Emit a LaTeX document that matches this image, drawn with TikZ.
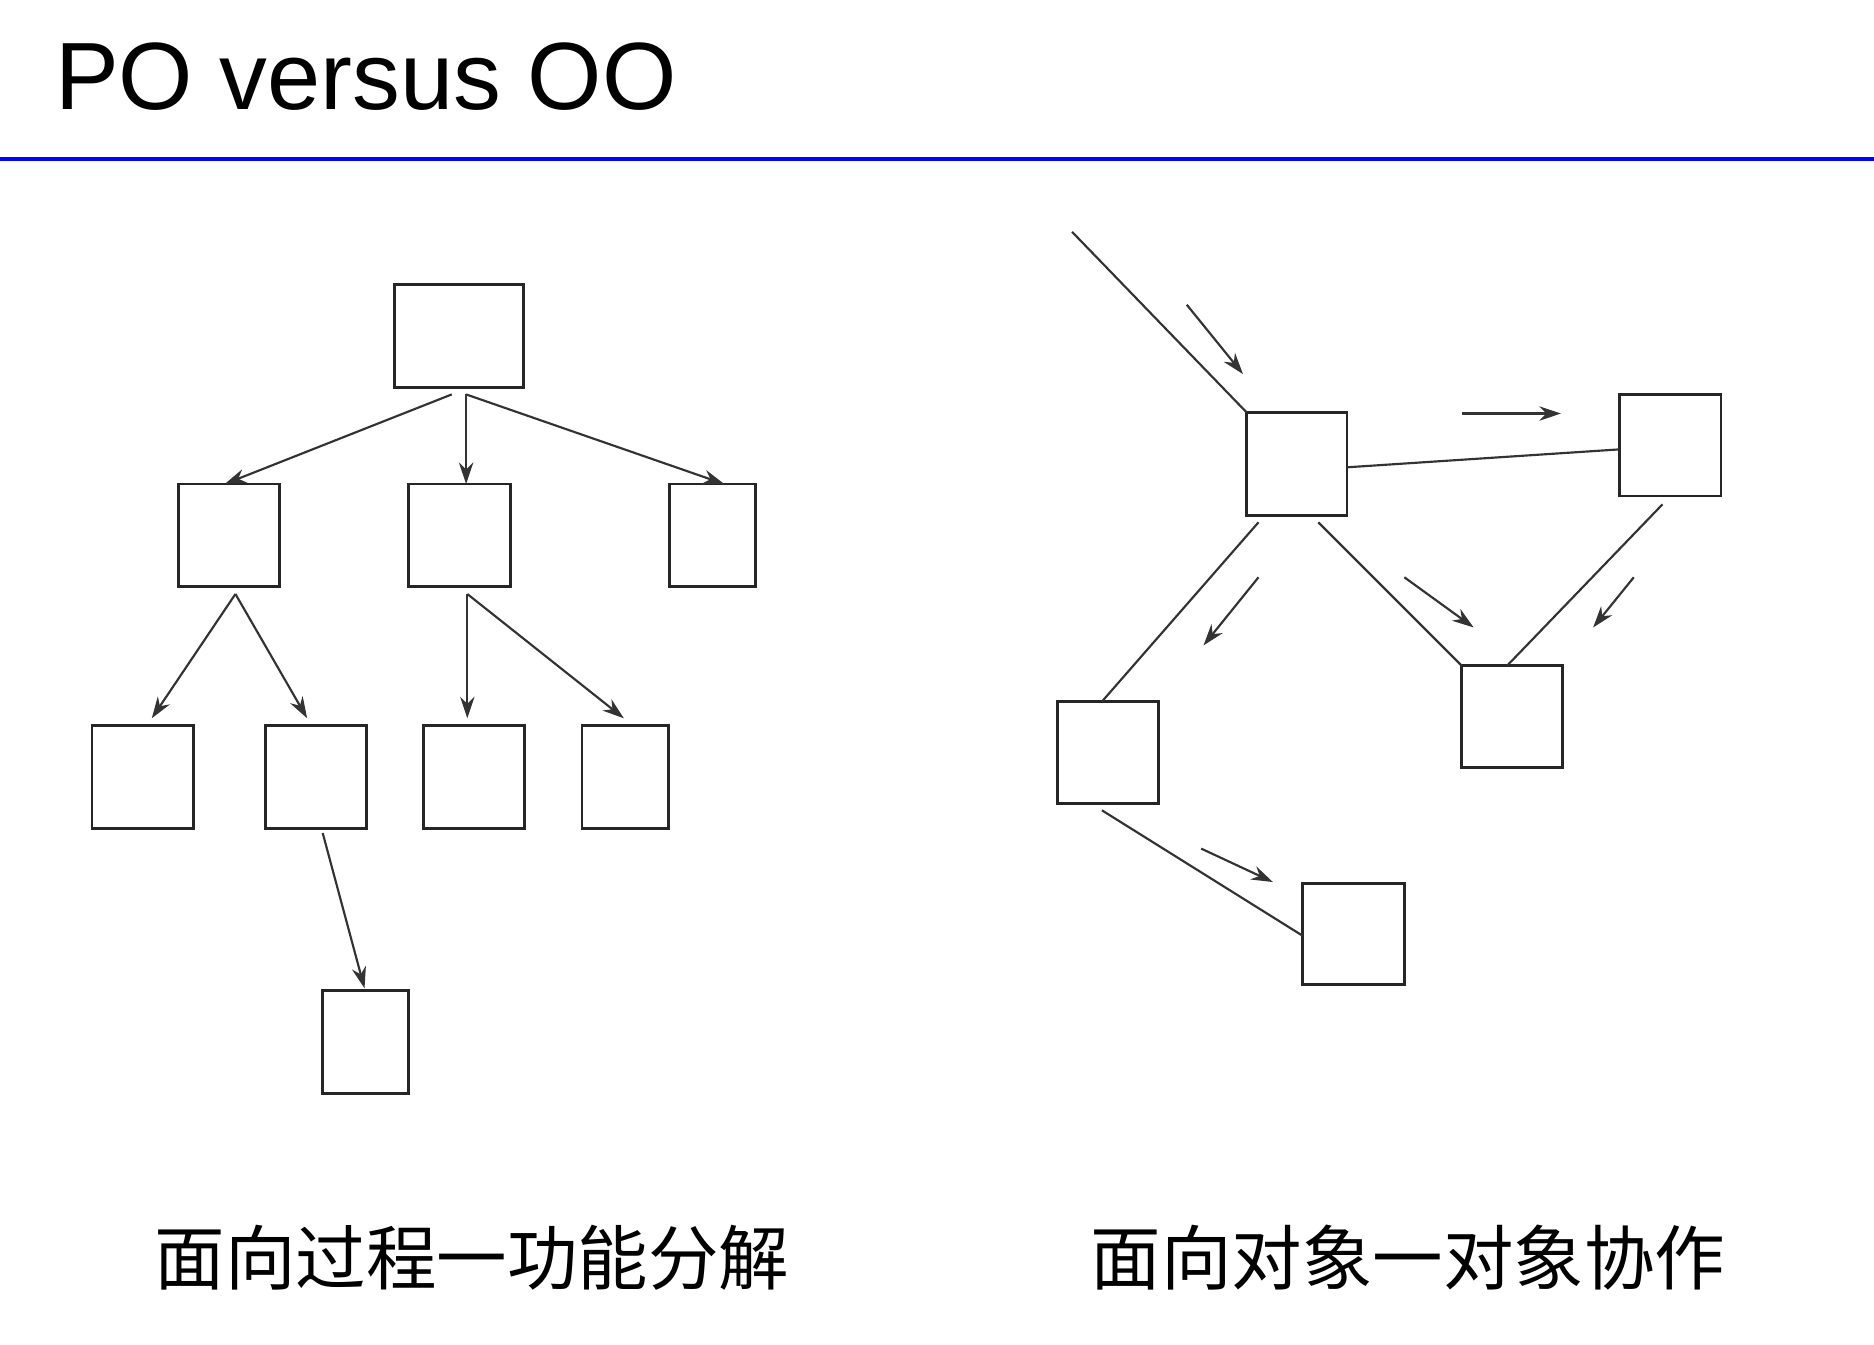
\documentclass[tikz,border=0pt]{standalone}
\usepackage{fontspec}
\setmainfont{Liberation Sans}
\newfontfamily\cjk{Noto Sans CJK SC}
\usetikzlibrary{arrows.meta}
\begin{document}
\begin{tikzpicture}[x=0.5pt,y=-0.5pt,
 bx/.style={draw=black!85,line width=1.2pt},
 ln/.style={draw=black!80,line width=0.9pt},
 ar/.style={ln,-{Stealth[length=9pt,width=6pt]}}]
\useasboundingbox (0,0) rectangle (1568,1125);
\node[anchor=base west,font=\fontsize{40}{48}\selectfont] (title) at (39,92) {PO versus OO};
\draw[blue,line width=1.5pt] (0,133) coordinate (l1) -- (1568,133) coordinate (l2);
% left tree
\path[bx] (330,238) rectangle (438,324) coordinate (root);
\path[bx] (149,405) rectangle (234,491);
\path[bx] (342,405) rectangle (427,491);
\path[bx] (560,405) rectangle (632,491);
\path[bx] (77,607) rectangle (162,693);
\path[bx] (222,607) rectangle (307,693);
\path[bx] (354,607) rectangle (439,693);
\path[bx] (487,607) rectangle (559,693);
\path[bx] (270,829) rectangle (342,915);
\draw[ar] (378,330) -- (188,405);
\draw[ar] (390,330) -- (390,405);
\draw[ar] (390,330) -- (606,405);
\draw[ar] (197,497) -- (127,601);
\draw[ar] (197,497) -- (257,601);
\draw[ar] (391,497) -- (391,601);
\draw[ar] (391,497) -- (522,601);
\draw[ar] (270,697) -- (305,827);
% right
\path[bx] (1043,345) rectangle (1127,431);
\path[bx] (1355,330) rectangle (1440,415);
\path[bx] (1223,557) rectangle (1307,642);
\path[bx] (885,587) rectangle (969,672);
\path[bx] (1090,739) rectangle (1175,824);
\draw[ln] (897,194) -- (1043,345);
\draw[ln] (1127,391) -- (1355,376);
\draw[ln] (1053,437) -- (922,587);
\draw[ln] (1103,437) -- (1223,557);
\draw[ln] (1391,422) -- (1261,557);
\draw[ln] (922,678) -- (1090,783);
\draw[ar] (993,255) -- (1040,313);
\draw[ar] (1223,346) -- (1306,346);
\draw[ar] (1053,483) -- (1007,540);
\draw[ar] (1175,483) -- (1233,525);
\draw[ar] (1367,483) -- (1333,525);
\draw[ar] (1005,710) -- (1065,738);
\node[font=\cjk\fontsize{29.5}{36}\selectfont] (c1) at (395,1052) {面向过程一功能分解};
\node[font=\cjk\fontsize{29.5}{36}\selectfont] (c2) at (1178,1052) {面向对象一对象协作};
\end{tikzpicture}
\end{document}
